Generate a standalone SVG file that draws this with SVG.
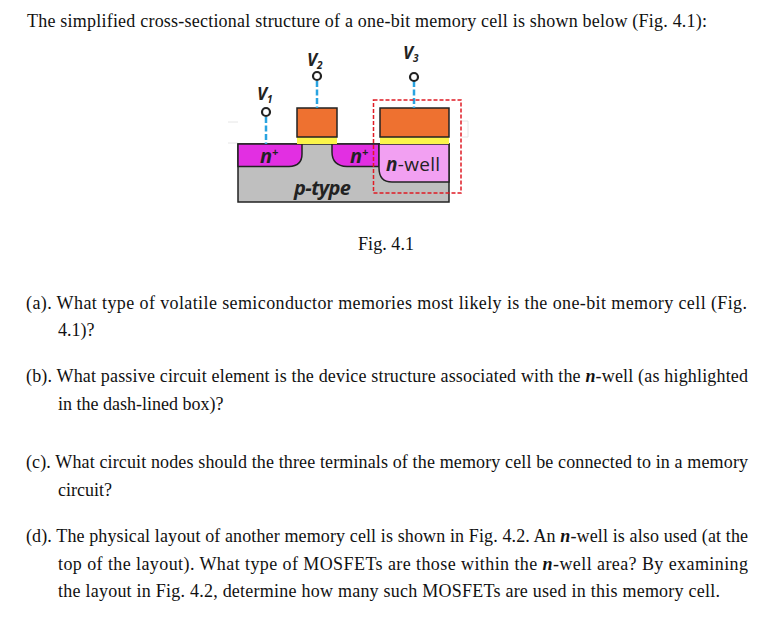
<svg xmlns="http://www.w3.org/2000/svg" width="763" height="618" viewBox="0 0 763 618">
<style>
.t{font-family:"Liberation Serif",serif;font-size:18px;fill:#111}
.o{stroke:#222;stroke-width:1.5;fill:none}
.b{stroke:#29a3e0;stroke-width:2.5;stroke-dasharray:6 2.5;fill:none}
.c{fill:#fff;stroke:#222;stroke-width:2.2}
.l{font-family:"Open Sans","Noto Sans",sans-serif;fill:#222;font-weight:700}
.f{stroke:#e6e6e6;stroke-width:1;fill:none}
</style>
<rect width="763" height="618" fill="#fff"/>
<g id="text">
<text class="t" x="27" y="27" textLength="680" lengthAdjust="spacing">The simplified cross-sectional structure of a one-bit memory cell is shown below (Fig. 4.1):</text>
<text class="t" x="358" y="250" textLength="56" lengthAdjust="spacing">Fig. 4.1</text>
<text class="t" x="26" y="309" textLength="721" lengthAdjust="spacing">(a). What type of volatile semiconductor memories most likely is the one-bit memory cell (Fig.</text>
<text class="t" x="58" y="336">4.1)?</text>
<text class="t" x="26" y="382" textLength="722" lengthAdjust="spacing">(b). What passive circuit element is the device structure associated with the <tspan font-weight="bold" font-style="italic">n</tspan>-well (as highlighted</text>
<text class="t" x="58" y="410">in the dash-lined box)?</text>
<text class="t" x="26" y="468" textLength="722" lengthAdjust="spacing">(c). What circuit nodes should the three terminals of the memory cell be connected to in a memory</text>
<text class="t" x="58" y="496">circuit?</text>
<text class="t" x="26" y="542" textLength="722" lengthAdjust="spacing">(d). The physical layout of another memory cell is shown in Fig. 4.2. An <tspan font-weight="bold" font-style="italic">n</tspan>-well is also used (at the</text>
<text class="t" x="58" y="570" textLength="690" lengthAdjust="spacing">top of the layout). What type of MOSFETs are those within the <tspan font-weight="bold" font-style="italic">n</tspan>-well area? By examining</text>
<text class="t" x="58" y="597" textLength="662" lengthAdjust="spacing">the layout in Fig. 4.2, determine how many such MOSFETs are used in this memory cell.</text>
</g>
<path class="f" d="M228 122H238M228 143H238M461 121H468V137H462M395 193V202M420 182V202"/>
<g id="substrate">
<rect x="238" y="144" width="211" height="58" fill="#bfbfbf" stroke="#222" stroke-width="1.5"/>
<text class="l" x="294" y="195" font-size="20" font-style="italic" textLength="57">p-type</text>
</g>
<g id="source-n-plus">
<path class="o" d="M238 144H302V154Q302 166 289 166.500H238Z" style="fill:#e22fe2"/>
<text class="l" x="260" y="163" font-size="20" font-style="italic">n<tspan font-size="11" dy="-7">+</tspan></text>
</g>
<g id="drain-n-plus">
<path class="o" d="M332 144H379V166.500H347Q332 166 332 152Z" style="fill:#e22fe2"/>
<text class="l" x="350" y="163" font-size="20" font-style="italic">n<tspan font-size="11" dy="-7">+</tspan></text>
</g>
<g id="n-well">
<path class="o" d="M379 144H449V182H392Q379 182 379 168Z" style="fill:#f2a0f2"/>
<text class="l" x="386" y="171" font-size="19" textLength="54" style="font-weight:400"><tspan font-style="italic" font-weight="700">n</tspan>-well</text>
</g>
<g id="gate-v2">
<rect x="297" y="137" width="40" height="7" fill="#fbf54a"/>
<rect x="297" y="108" width="40" height="29" fill="#ee7130" stroke="#222" stroke-width="1.5"/>
<text class="l" x="307" y="66" font-size="17" font-style="italic">V<tspan font-size="10" dy="3">2</tspan></text>
</g>
<g id="gate-v3">
<rect x="380" y="137" width="69" height="7" fill="#fbf54a"/>
<rect x="380" y="108" width="69" height="29" fill="#ee7130" stroke="#222" stroke-width="1.5"/>
<text class="l" x="403" y="59" font-size="17" font-style="italic">V<tspan font-size="10" dy="3">3</tspan></text>
</g>
<g id="terminal-v1">
<text class="l" x="257" y="100" font-size="17" font-style="italic">V<tspan font-size="10" dy="3">1</tspan></text>
</g>
<g id="connectors">
<path class="b" d="M266 117V144"/>
<path class="b" d="M317 81V108"/>
<path class="b" d="M414 81V108"/>
<circle class="c" cx="266" cy="112" r="4"/>
<circle class="c" cx="317" cy="76" r="4"/>
<circle class="c" cx="414" cy="77" r="4"/>
</g>
<g id="highlight-box">
<rect x="373.500" y="100" width="87.500" height="93" fill="none" stroke="#e01b24" stroke-width="1.5" stroke-dasharray="4 2"/>
</g>
</svg>
